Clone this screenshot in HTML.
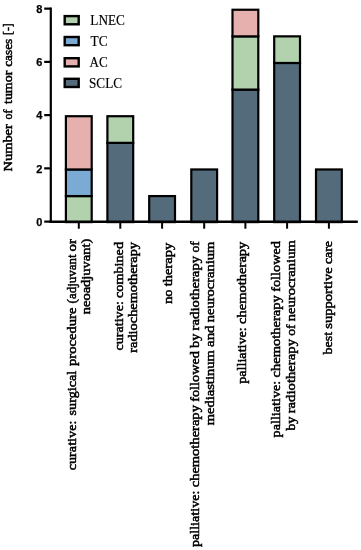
<!DOCTYPE html>
<html lang="en">
<head>
<meta charset="utf-8">
<title>Number of tumor cases by therapy</title>
<style>
html,body{margin:0;padding:0;background:#fff;}
body{width:361px;height:550px;overflow:hidden;}
svg{display:block;}
.s{font-family:"Liberation Serif",serif;font-size:13.3px;fill:#000;stroke:#000;stroke-width:0.5px;}
.lg{font-family:"Liberation Serif",serif;font-size:13.8px;fill:#000;stroke:#000;stroke-width:0.15px;}
.n{font-family:"Liberation Sans",sans-serif;font-weight:bold;font-size:11px;fill:#000;stroke:#000;stroke-width:0.25px;}
</style>
</head>
<body>
<svg width="361" height="550" viewBox="0 0 361 550">
<rect x="0" y="0" width="361" height="550" fill="#fff"/>
<g stroke="#000" stroke-width="2.2" stroke-linejoin="miter">
<rect x="65.90" y="196.08" width="25.80" height="26.02" fill="#B1D2AC"/>
<rect x="65.90" y="169.46" width="25.80" height="26.62" fill="#7BAAD4"/>
<rect x="65.90" y="116.22" width="25.80" height="53.24" fill="#E6B0AE"/>
<rect x="107.40" y="142.84" width="25.80" height="79.26" fill="#546B7C"/>
<rect x="107.40" y="116.22" width="25.80" height="26.62" fill="#B1D2AC"/>
<rect x="149.20" y="196.08" width="25.80" height="26.02" fill="#546B7C"/>
<rect x="191.30" y="169.46" width="25.80" height="52.64" fill="#546B7C"/>
<rect x="232.50" y="89.60" width="25.80" height="132.50" fill="#546B7C"/>
<rect x="232.50" y="36.36" width="25.80" height="53.24" fill="#B1D2AC"/>
<rect x="232.50" y="9.74" width="25.80" height="26.62" fill="#E6B0AE"/>
<rect x="274.20" y="62.98" width="25.80" height="159.12" fill="#546B7C"/>
<rect x="274.20" y="36.36" width="25.80" height="26.62" fill="#B1D2AC"/>
<rect x="316.00" y="169.46" width="25.80" height="52.64" fill="#546B7C"/>
</g>
<g stroke="#000" fill="none">
<line x1="50.8" y1="7.5" x2="50.8" y2="222.9" stroke-width="2.2"/>
<line x1="49.7" y1="221.7" x2="357.8" y2="221.7" stroke-width="2.4"/>
<line x1="44.2" y1="221.60" x2="50.8" y2="221.60" stroke-width="2.2"/>
<line x1="44.2" y1="168.36" x2="50.8" y2="168.36" stroke-width="2.2"/>
<line x1="44.2" y1="115.12" x2="50.8" y2="115.12" stroke-width="2.2"/>
<line x1="44.2" y1="61.88" x2="50.8" y2="61.88" stroke-width="2.2"/>
<line x1="44.2" y1="8.64" x2="50.8" y2="8.64" stroke-width="2.2"/>
<line x1="78.8" y1="222" x2="78.8" y2="228.7" stroke-width="2"/>
<line x1="120.3" y1="222" x2="120.3" y2="228.7" stroke-width="2"/>
<line x1="162.1" y1="222" x2="162.1" y2="228.7" stroke-width="2"/>
<line x1="204.2" y1="222" x2="204.2" y2="228.7" stroke-width="2"/>
<line x1="245.4" y1="222" x2="245.4" y2="228.7" stroke-width="2"/>
<line x1="287.1" y1="222" x2="287.1" y2="228.7" stroke-width="2"/>
<line x1="328.9" y1="222" x2="328.9" y2="228.7" stroke-width="2"/>
</g>
<text class="n" x="42.3" y="225.90" text-anchor="end">0</text>
<text class="n" x="42.3" y="172.66" text-anchor="end">2</text>
<text class="n" x="42.3" y="119.42" text-anchor="end">4</text>
<text class="n" x="42.3" y="66.18" text-anchor="end">6</text>
<text class="n" x="42.3" y="12.94" text-anchor="end">8</text>
<rect x="64.7" y="16.1" width="14.0" height="8.2" fill="#B1D2AC" stroke="#000" stroke-width="2.4"/>
<text class="lg" x="90.3" y="24.8" textLength="34.6" lengthAdjust="spacingAndGlyphs">LNEC</text>
<rect x="64.7" y="37.0" width="14.0" height="8.2" fill="#7BAAD4" stroke="#000" stroke-width="2.4"/>
<text class="lg" x="90.6" y="45.6" textLength="17.0" lengthAdjust="spacingAndGlyphs">TC</text>
<rect x="64.7" y="58.2" width="14.0" height="8.2" fill="#E6B0AE" stroke="#000" stroke-width="2.4"/>
<text class="lg" x="89.6" y="66.8" textLength="18.2" lengthAdjust="spacingAndGlyphs">AC</text>
<rect x="64.7" y="78.8" width="14.0" height="8.2" fill="#546B7C" stroke="#000" stroke-width="2.4"/>
<text class="lg" x="89.0" y="87.6" textLength="33.0" lengthAdjust="spacingAndGlyphs">SCLC</text>
<text class="s" transform="translate(12.4,171.4) rotate(-90)" textLength="47.2" lengthAdjust="spacingAndGlyphs">Number</text>
<text class="s" transform="translate(12.4,119.5) rotate(-90)" textLength="9.9" lengthAdjust="spacingAndGlyphs">of</text>
<text class="s" transform="translate(12.4,104.0) rotate(-90)" textLength="33.4" lengthAdjust="spacingAndGlyphs">tumor</text>
<text class="s" transform="translate(12.4,66.8) rotate(-90)" textLength="28.0" lengthAdjust="spacingAndGlyphs">cases</text>
<text class="s" transform="translate(12.4,35.0) rotate(-90)" textLength="11.7" lengthAdjust="spacingAndGlyphs">[-]</text>
<g transform="translate(76.45,470.3) rotate(-90)"><text class="s" x="0.0" y="0" textLength="49.7" lengthAdjust="spacingAndGlyphs">curative:</text><text class="s" x="54.9" y="0" textLength="44.6" lengthAdjust="spacingAndGlyphs">surgical</text><text class="s" x="104.3" y="0" textLength="58.4" lengthAdjust="spacingAndGlyphs">procedure</text><text class="s" x="166.9" y="0" textLength="49.1" lengthAdjust="spacingAndGlyphs">(adjuvant</text><text class="s" x="218.9" y="0" textLength="12.4" lengthAdjust="spacingAndGlyphs">or</text></g>
<g transform="translate(89.65,314.3) rotate(-90)"><text class="s" x="0.0" y="0" textLength="75.7" lengthAdjust="spacingAndGlyphs">neoadjuvant)</text></g>
<g transform="translate(122.90,350.4) rotate(-90)"><text class="s" x="0.0" y="0" textLength="49.2" lengthAdjust="spacingAndGlyphs">curative:</text><text class="s" x="52.4" y="0" textLength="56.0" lengthAdjust="spacingAndGlyphs">combined</text></g>
<g transform="translate(137.20,352.7) rotate(-90)"><text class="s" x="0.0" y="0" textLength="110.7" lengthAdjust="spacingAndGlyphs">radiochemotherapy</text></g>
<g transform="translate(171.60,303.8) rotate(-90)"><text class="s" x="0.0" y="0" textLength="14.3" lengthAdjust="spacingAndGlyphs">no</text><text class="s" x="17.5" y="0" textLength="43.7" lengthAdjust="spacingAndGlyphs">therapy</text></g>
<g transform="translate(199.00,547.1) rotate(-90)"><text class="s" x="0.0" y="0" textLength="56.6" lengthAdjust="spacingAndGlyphs">palliative:</text><text class="s" x="59.8" y="0" textLength="82.2" lengthAdjust="spacingAndGlyphs">chemotherapy</text><text class="s" x="145.3" y="0" textLength="50.7" lengthAdjust="spacingAndGlyphs">followed</text><text class="s" x="199.2" y="0" textLength="14.3" lengthAdjust="spacingAndGlyphs">by</text><text class="s" x="216.7" y="0" textLength="74.6" lengthAdjust="spacingAndGlyphs">radiotherapy</text><text class="s" x="294.6" y="0" textLength="11.3" lengthAdjust="spacingAndGlyphs">of</text></g>
<g transform="translate(213.80,425.3) rotate(-90)"><text class="s" x="0.0" y="0" textLength="75.1" lengthAdjust="spacingAndGlyphs">mediastinum</text><text class="s" x="78.3" y="0" textLength="21.6" lengthAdjust="spacingAndGlyphs">and</text><text class="s" x="103.1" y="0" textLength="80.6" lengthAdjust="spacingAndGlyphs">neurocranium</text></g>
<g transform="translate(245.80,383.8) rotate(-90)"><text class="s" x="0.0" y="0" textLength="56.6" lengthAdjust="spacingAndGlyphs">palliative:</text><text class="s" x="59.9" y="0" textLength="82.3" lengthAdjust="spacingAndGlyphs">chemotherapy</text></g>
<g transform="translate(279.90,437.4) rotate(-90)"><text class="s" x="0.0" y="0" textLength="56.7" lengthAdjust="spacingAndGlyphs">palliative:</text><text class="s" x="59.9" y="0" textLength="82.4" lengthAdjust="spacingAndGlyphs">chemotherapy</text><text class="s" x="145.6" y="0" textLength="50.8" lengthAdjust="spacingAndGlyphs">followed</text></g>
<g transform="translate(295.10,430.8) rotate(-90)"><text class="s" x="0.0" y="0" textLength="14.3" lengthAdjust="spacingAndGlyphs">by</text><text class="s" x="17.5" y="0" textLength="74.3" lengthAdjust="spacingAndGlyphs">radiotherapy</text><text class="s" x="95.0" y="0" textLength="11.3" lengthAdjust="spacingAndGlyphs">of</text><text class="s" x="109.6" y="0" textLength="81.0" lengthAdjust="spacingAndGlyphs">neurocranium</text></g>
<g transform="translate(332.40,354.5) rotate(-90)"><text class="s" x="0.0" y="0" textLength="22.6" lengthAdjust="spacingAndGlyphs">best</text><text class="s" x="25.8" y="0" textLength="61.4" lengthAdjust="spacingAndGlyphs">supportive</text><text class="s" x="90.4" y="0" textLength="23.1" lengthAdjust="spacingAndGlyphs">care</text></g>
</svg>
</body>
</html>
